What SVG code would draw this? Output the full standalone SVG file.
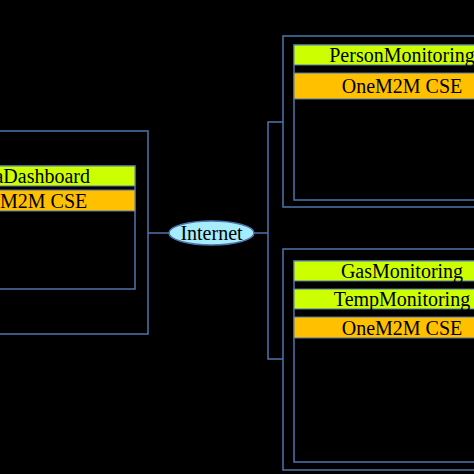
<svg xmlns="http://www.w3.org/2000/svg" width="474" height="474" viewBox="0 0 474 474">
<style>
.box{fill:none;stroke:#4f74ad;stroke-width:1.5}
.g{fill:#ccff00;stroke:#4f74ad;stroke-width:1}
.o{fill:#ffc000;stroke:#4f74ad;stroke-width:1}
.t{font-family:"Liberation Serif",serif;font-size:20px;fill:#000}
.c{fill:none;stroke:#4f74ad;stroke-width:1.5}
</style>
<rect width="474" height="474" fill="#000"/>
<g id="connectors">
<path class="c" d="M148 233H169"/>
<path class="c" d="M254 233H268"/>
<path class="c" d="M283 122H268V359H283"/>
</g>
<g id="dashboard-node">
<rect class="box" x="-60" y="131" width="208" height="203"/>
<rect class="box" x="-50" y="166" width="185" height="123"/>
<rect class="g" x="-50" y="166" width="185" height="20"/>
<rect class="o" x="-50" y="190" width="185" height="21"/>
<text class="t" x="90" y="183" text-anchor="end">aDashboard</text>
<text class="t" x="0" y="208">M2M CSE</text>
</g>
<g id="internet">
<ellipse cx="211.5" cy="233" rx="42.5" ry="12" fill="#a6ecfa" stroke="#4f74ad" stroke-width="1.5"/>
<text class="t" x="211.5" y="239.5" text-anchor="middle">Internet</text>
</g>
<g id="person-node">
<rect class="box" x="283" y="36" width="240" height="171"/>
<rect class="box" x="294" y="45" width="216" height="155"/>
<rect class="g" x="294" y="45" width="216" height="20"/>
<rect class="o" x="294" y="73" width="216" height="26"/>
<text class="t" x="402" y="62" text-anchor="middle">PersonMonitoring</text>
<text class="t" x="402" y="93" text-anchor="middle">OneM2M CSE</text>
</g>
<g id="gas-temp-node">
<rect class="box" x="283" y="249" width="240" height="221"/>
<rect class="box" x="294" y="261" width="216" height="201"/>
<rect class="g" x="294" y="261" width="216" height="20"/>
<rect class="g" x="294" y="289" width="216" height="20"/>
<rect class="o" x="294" y="317" width="216" height="21"/>
<text class="t" x="402" y="278" text-anchor="middle">GasMonitoring</text>
<text class="t" x="402" y="306" text-anchor="middle">TempMonitoring</text>
<text class="t" x="402" y="335" text-anchor="middle">OneM2M CSE</text>
</g>
</svg>
